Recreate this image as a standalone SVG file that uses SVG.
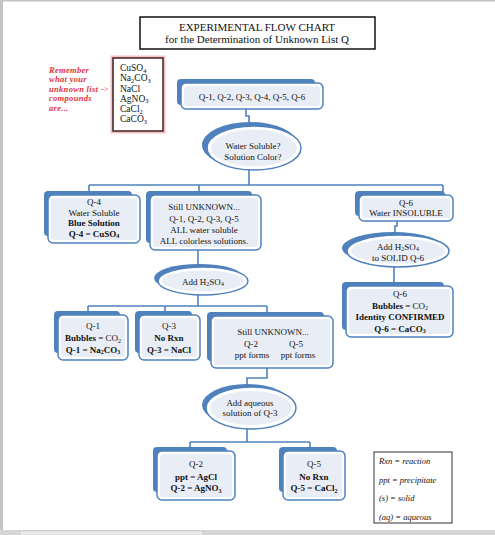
<svg xmlns="http://www.w3.org/2000/svg" width="495" height="535" viewBox="0 0 495 535">
<style>
.sh{fill:#4f81bd}
.bx{fill:#ffffff;stroke:#4f81bd;stroke-width:1.5}
.in{fill:#e9eef6}
.t{font-family:"Liberation Serif",serif;font-size:9px;fill:#111;text-anchor:middle}
.b{font-weight:bold}
.cn{stroke:#4f81bd;stroke-width:1.6;fill:none}
.lg{font-family:"Liberation Serif",serif;font-size:8.5px;font-style:italic;fill:#111}
.rm{font-family:"Liberation Serif",serif;font-size:8.5px;font-style:italic;font-weight:bold;fill:#e0343c;letter-spacing:0.3px}
.cp{font-family:"Liberation Serif",serif;font-size:9.5px;fill:#111}
</style>
<rect x="0" y="0" width="495" height="535" fill="#ffffff"/>
<rect x="0" y="0" width="495" height="1.5" fill="#c4c4c4"/>
<rect x="0" y="0" width="3" height="530" fill="#c4c4c4"/>
<rect x="0" y="530" width="495" height="5" fill="#d6d6d6"/>
<rect x="20" y="531" width="183" height="4" fill="#ececec" stroke="#bbbbbb" stroke-width="0.5"/>

<g id="title">
<rect x="140" y="17" width="235" height="32" fill="#ffffff" stroke="#111" stroke-width="1.5"/>
<text class="t" x="257" y="31" style="font-size:11px">EXPERIMENTAL FLOW CHART</text>
<text class="t" x="257" y="43" style="font-size:11px">for the Determination of Unknown List Q</text>
</g>

<g id="remember">
<text class="rm" x="49" y="73">Remember</text>
<text class="rm" x="49" y="82">what your</text>
<text class="rm" x="49" y="92">unknown list <tspan style="font-weight:normal;font-style:normal">-&gt;</tspan></text>
<text class="rm" x="49" y="101">compounds</text>
<text class="rm" x="49" y="111">are...</text>
</g>

<g id="compounds">
<rect x="113" y="58" width="50" height="73" fill="none" stroke="#f8c0c0" stroke-width="5"/>
<rect x="113" y="58" width="50" height="73" fill="#ffffff" stroke="#3a2222" stroke-width="1.5"/>
<text class="cp" x="120" y="71">CuSO<tspan font-size="6.5" dy="1.5">4</tspan></text>
<text class="cp" x="120" y="81">Na<tspan font-size="6.5" dy="1.5">2</tspan><tspan dy="-1.5">CO</tspan><tspan font-size="6.5" dy="1.5">3</tspan></text>
<text class="cp" x="120" y="91.5">NaCl</text>
<text class="cp" x="120" y="101.5">AgNO<tspan font-size="6.5" dy="1.5">3</tspan></text>
<text class="cp" x="120" y="112">CaCl<tspan font-size="6.5" dy="1.5">2</tspan></text>
<text class="cp" x="120" y="122">CaCO<tspan font-size="6.5" dy="1.5">3</tspan></text>
</g>

<g id="connectors">
<path class="cn" d="M246 109 V116 H249 V126"/>
<path class="cn" d="M249 169 V185 M89 185 H443 M89 185 V192 M199 185 V193 M443 185 V192"/>
<path class="cn" d="M397 221 V226 H395 V236"/>
<path class="cn" d="M394 266 V283"/>
<path class="cn" d="M198 250 V266"/>
<path class="cn" d="M198 295 V306 M88 306 H267 M88 306 V312 M165 306 V312 M267 306 V313"/>
<path class="cn" d="M267 368 V378 H247 V388"/>
<path class="cn" d="M247 429 V442 M190 442 H310 M190 442 V448 M310 442 V448"/>
</g>

<g id="start">
<rect class="sh" x="177" y="79" width="138" height="26" rx="4"/>
<rect class="bx" x="181" y="83" width="142" height="26" rx="5"/>
<rect class="in" x="184" y="86" width="136" height="20" rx="3"/>
<text class="t" x="252" y="99.5">Q-1, Q-2, Q-3, Q-4, Q-5, Q-6</text>
</g>

<g id="water">
<ellipse class="sh" cx="250" cy="145" rx="48" ry="23"/>
<ellipse class="bx" cx="254" cy="148" rx="47" ry="22"/>
<ellipse class="in" cx="254" cy="148" rx="43" ry="18.5"/>
<text class="t" x="253" y="148.5">Water Soluble?</text>
<text class="t" x="253" y="159.5">Solution Color?</text>
</g>

<g id="q4">
<rect class="sh" x="44" y="191" width="88" height="45" rx="4"/>
<rect class="bx" x="48" y="195" width="92" height="48" rx="5"/>
<rect class="in" x="51" y="198" width="86" height="42" rx="3"/>
<text class="t" x="94" y="205">Q-4</text>
<text class="t" x="94" y="215.5">Water Soluble</text>
<text class="t b" x="94" y="226">Blue Solution</text>
<text class="t b" x="94" y="236.5">Q-4 = CuSO<tspan font-size="6" dy="1.5">4</tspan></text>
</g>

<g id="unknown1">
<rect class="sh" x="146" y="191" width="106" height="52" rx="4"/>
<rect class="bx" x="150" y="195" width="111" height="55" rx="5"/>
<rect class="in" x="153" y="198" width="105" height="49" rx="3"/>
<text class="t" x="204" y="210">Still UNKNOWN...</text>
<text class="t" x="204" y="221.5">Q-1, Q-2, Q-3, Q-5</text>
<text class="t" x="204" y="233">ALL water soluble</text>
<text class="t" x="204" y="244">ALL colorless solutions.</text>
</g>

<g id="q6a">
<rect class="sh" x="355" y="191" width="90" height="25" rx="4"/>
<rect class="bx" x="359" y="195" width="94" height="26" rx="5"/>
<rect class="in" x="362" y="198" width="88" height="20" rx="3"/>
<text class="t" x="406" y="205.5">Q-6</text>
<text class="t" x="406" y="216">Water INSOLUBLE</text>
</g>

<g id="addsolid">
<ellipse class="sh" cx="393" cy="248" rx="51" ry="16"/>
<ellipse class="bx" cx="398" cy="251" rx="51" ry="16"/>
<ellipse class="in" cx="398" cy="251" rx="47" ry="12.5"/>
<text class="t" x="398" y="249.5">Add H<tspan font-size="6" dy="1.5">2</tspan><tspan dy="-1.5">SO</tspan><tspan font-size="6" dy="1.5">4</tspan></text>
<text class="t" x="398" y="261">to SOLID Q-6</text>
</g>

<g id="q6b">
<rect class="sh" x="342" y="282" width="102" height="48" rx="4"/>
<rect class="bx" x="346" y="286" width="107" height="51" rx="5"/>
<rect class="in" x="349" y="289" width="101" height="45" rx="3"/>
<text class="t" x="400" y="297">Q-6</text>
<text class="t b" x="400" y="308.5">Bubbles = <tspan style="font-weight:normal">CO</tspan><tspan font-size="6" dy="1.5" style="font-weight:normal">2</tspan></text>
<text class="t b" x="400" y="320">Identity CONFIRMED</text>
<text class="t b" x="400" y="331.5">Q-6 = CaCO<tspan font-size="6" dy="1.5">3</tspan></text>
</g>

<g id="addh2so4">
<ellipse class="sh" cx="199" cy="278" rx="45" ry="14"/>
<ellipse class="bx" cx="203" cy="281" rx="45" ry="14"/>
<ellipse class="in" cx="203" cy="281" rx="41" ry="10.5"/>
<text class="t" x="203" y="284.5">Add H<tspan font-size="6" dy="1.5">2</tspan><tspan dy="-1.5">SO</tspan><tspan font-size="6" dy="1.5">4</tspan></text>
</g>

<g id="q1">
<rect class="sh" x="54" y="311" width="66" height="42" rx="4"/>
<rect class="bx" x="58" y="315" width="70" height="45" rx="5"/>
<rect class="in" x="61" y="318" width="64" height="39" rx="3"/>
<text class="t" x="93" y="329">Q-1</text>
<text class="t b" x="93" y="341">Bubbles = <tspan style="font-weight:normal">CO</tspan><tspan font-size="6" dy="1.5" style="font-weight:normal">2</tspan></text>
<text class="t b" x="93" y="352.5">Q-1 = Na<tspan font-size="6" dy="1.5">2</tspan><tspan dy="-1.5">CO</tspan><tspan font-size="6" dy="1.5">3</tspan></text>
</g>

<g id="q3">
<rect class="sh" x="135" y="311" width="57" height="42" rx="4"/>
<rect class="bx" x="139" y="315" width="61" height="45" rx="5"/>
<rect class="in" x="142" y="318" width="55" height="39" rx="3"/>
<text class="t" x="169" y="329">Q-3</text>
<text class="t b" x="169" y="341">No Rxn</text>
<text class="t b" x="169" y="352.5">Q-3 = NaCl</text>
</g>

<g id="unknown2">
<rect class="sh" x="207" y="312" width="117" height="49" rx="4"/>
<rect class="bx" x="211" y="316" width="122" height="52" rx="5"/>
<rect class="in" x="214" y="319" width="116" height="46" rx="3"/>
<text class="t" x="273" y="335">Still UNKNOWN...</text>
<text class="t" x="251" y="346.5">Q-2</text>
<text class="t" x="296" y="346.5">Q-5</text>
<text class="t" x="252" y="358">ppt forms</text>
<text class="t" x="298" y="358">ppt forms</text>
</g>

<g id="aqueous">
<ellipse class="sh" cx="247" cy="405" rx="45" ry="21"/>
<ellipse class="bx" cx="251" cy="408" rx="45" ry="21"/>
<ellipse class="in" cx="251" cy="408" rx="41" ry="17"/>
<text class="t" x="250" y="406">Add aqueous</text>
<text class="t" x="250" y="416">solution of Q-3</text>
</g>

<g id="q2">
<rect class="sh" x="153" y="447" width="74" height="45" rx="4"/>
<rect class="bx" x="157" y="451" width="78" height="49" rx="5"/>
<rect class="in" x="160" y="454" width="72" height="43" rx="3"/>
<text class="t" x="196" y="467">Q-2</text>
<text class="t b" x="196" y="479.5">ppt = AgCl</text>
<text class="t b" x="196" y="491">Q-2 = AgNO<tspan font-size="6" dy="1.5">3</tspan></text>
</g>

<g id="q5">
<rect class="sh" x="279" y="447" width="58" height="45" rx="4"/>
<rect class="bx" x="283" y="451" width="62" height="49" rx="5"/>
<rect class="in" x="286" y="454" width="56" height="43" rx="3"/>
<text class="t" x="314" y="467">Q-5</text>
<text class="t b" x="314" y="479.5">No Rxn</text>
<text class="t b" x="314" y="491">Q-5 = CaCl<tspan font-size="6" dy="1.5">2</tspan></text>
</g>

<g id="legend">
<rect x="374" y="452" width="78" height="71" fill="#ffffff" stroke="#333" stroke-width="1"/>
<text class="lg" x="379" y="464">Rxn = reaction</text>
<text class="lg" x="379" y="483">ppt = precipitate</text>
<text class="lg" x="379" y="501">(s) = solid</text>
<text class="lg" x="379" y="520">(aq) = aqueous</text>
</g>
</svg>
